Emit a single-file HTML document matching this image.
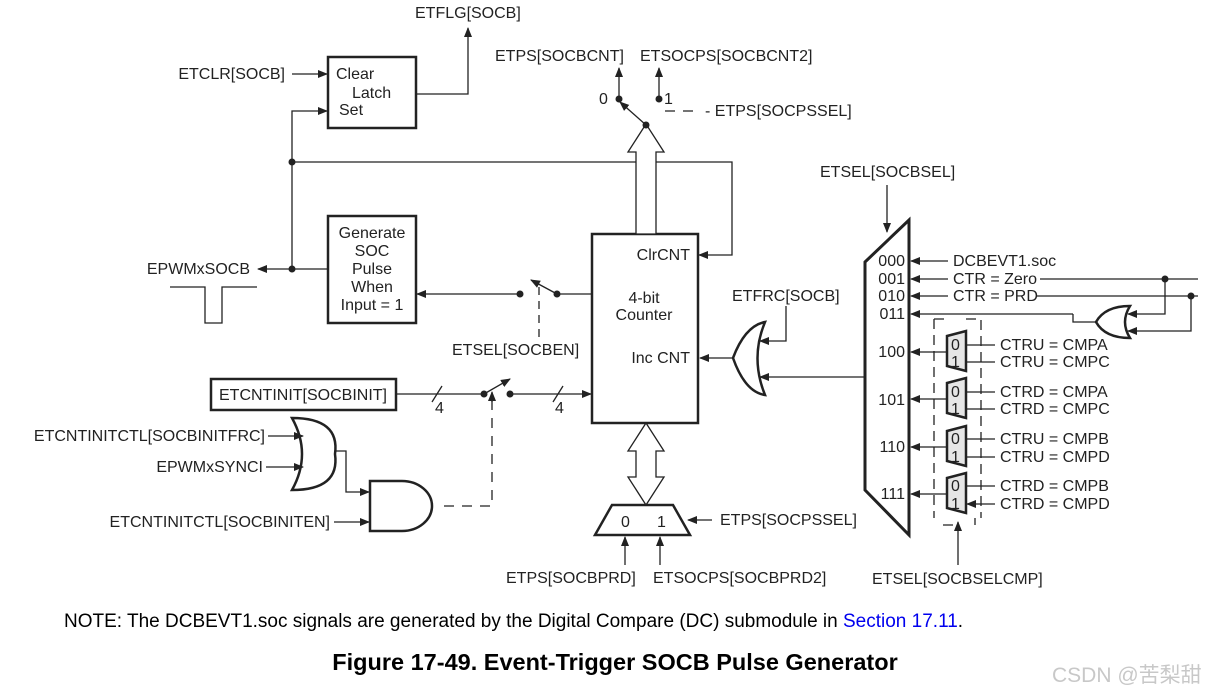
<!DOCTYPE html>
<html><head><meta charset="utf-8"><style>
body{margin:0;background:#fff;}
svg{display:block;font-family:"Liberation Sans",Arial,sans-serif;}
text{font-size:16px;fill:#222;}
</style></head><body>
<svg width="1215" height="693" viewBox="0 0 1215 693" xmlns="http://www.w3.org/2000/svg">
<defs>
<marker id="a" markerWidth="10" markerHeight="10" refX="9" refY="5" orient="auto" markerUnits="userSpaceOnUse"><path d="M0,1 L10,5 L0,9 Z" fill="#222"/></marker>
</defs>
<g stroke="#222" stroke-width="1.3" fill="none">
<rect x="328" y="57" width="88" height="71" stroke-width="2.5"/>
<path d="M416,94 H468 V28" marker-end="url(#a)"/>
<path d="M292,74 H327" marker-end="url(#a)"/>
<path d="M292,269 V111 H327" marker-end="url(#a)"/>
<path d="M292,162 H732 V255 H699" marker-end="url(#a)"/>
<rect x="328" y="216" width="88" height="107" stroke-width="2.5"/>
<path d="M327,269 H258" marker-end="url(#a)"/>
<path d="M170,287 H205 V323 H222 V287 H257"/>
<rect x="592" y="234" width="106" height="189" stroke-width="2.5"/>
<path d="M592,294 H557"/>
<path d="M557,294 L531,280" marker-end="url(#a)"/>
<path d="M520,294 H417" marker-end="url(#a)"/>
<path d="M539,287 V340" stroke-dasharray="8,6"/>
<path d="M636,234 V152 H628 L646,124 L664,152 H656 V234 Z" fill="#fff"/>
<path d="M646,125 L620,102" marker-end="url(#a)"/>
<path d="M619,99 V68" marker-end="url(#a)"/>
<path d="M659,99 V68" marker-end="url(#a)"/>
<path d="M665,111 H700" stroke-dasharray="10,8"/>
<rect x="211" y="379" width="185" height="31" stroke-width="2.5"/>
<path d="M396,394 H484"/>
<path d="M484,394 L510,379" marker-end="url(#a)"/>
<path d="M510,394 H591" marker-end="url(#a)"/>
<path d="M432,402 L442,386 M553,402 L563,386"/>
<path d="M444,506 H492 V396" stroke-dasharray="10,8"/>
<path d="M492,402 V392" marker-end="url(#a)"/>
<path d="M292,418 Q340,418 335,454 Q340,490 292,490 Q312,454 292,418 Z" stroke-width="2.5"/>
<path d="M268,436 H303" marker-end="url(#a)"/>
<path d="M266,467 H303" marker-end="url(#a)"/>
<path d="M336,451 H346 V492 H369" marker-end="url(#a)"/>
<path d="M370,481 H402 A30,25 0 0 1 402,531 H370 Z" stroke-width="2.5"/>
<path d="M334,522 H369" marker-end="url(#a)"/>
<path d="M646,423 L664,451 H656 V477 H664 L646,505 L628,477 H636 V451 H628 Z" fill="#fff"/>
<path d="M612,505 H673 L690,535 H595 Z" stroke-width="2.5"/>
<path d="M712,520 H688" marker-end="url(#a)"/>
<path d="M625,565 V537" marker-end="url(#a)"/>
<path d="M660,565 V537" marker-end="url(#a)"/>
<path d="M765,322 Q750,358 765,395 Q745,392 733,358 Q745,326 765,322 Z" stroke-width="2.5"/>
<path d="M786,306 V341 H760" marker-end="url(#a)"/>
<path d="M865,377 H760" marker-end="url(#a)"/>
<path d="M733,358 H700" marker-end="url(#a)"/>
<path d="M865,262 L909,220 V535 L865,490 Z" stroke-width="3"/>
<path d="M887,185 V232" marker-end="url(#a)"/>
<path d="M948,261 H911" marker-end="url(#a)"/>
<path d="M948,279 H911" marker-end="url(#a)"/>
<path d="M948,296 H911" marker-end="url(#a)"/>
<path d="M1040,279 H1198 M1037,296 H1198"/>
<path d="M1073,314 H911" marker-end="url(#a)"/>
<path d="M1073,314 V322 H1096"/>
<path d="M1130,306 Q1105,306 1096,322 Q1105,338 1130,338 Q1120,322 1130,306 Z" stroke-width="2.5"/>
<path d="M1165,279 V314 H1128" marker-end="url(#a)"/>
<path d="M1191,296 V331 H1128" marker-end="url(#a)"/>
<path d="M934,319 V518 M934,319 H948 M966,319 H981 V518 M943,525 H955 M975,518 V525" stroke-dasharray="10,6"/>
<path d="M958,565 V522" marker-end="url(#a)"/>
<g fill="#e6e6e6" stroke-width="2.5">
<path d="M947,336 L966,331 V371 L947,366 Z"/>
<path d="M947,383 L966,378 V418 L947,413 Z"/>
<path d="M947,431 L966,426 V466 L947,461 Z"/>
<path d="M947,478 L966,473 V513 L947,508 Z"/>
</g>
<path d="M947,352 H911" marker-end="url(#a)"/>
<path d="M947,399 H911" marker-end="url(#a)"/>
<path d="M947,447 H911" marker-end="url(#a)"/>
<path d="M947,494 H911" marker-end="url(#a)"/>
<path d="M995,345 H967 M995,362 H967 M995,392 H967 M995,409 H967 M995,439 H967 M995,457 H967 M995,486 H967 M995,504 H967" marker-end="url(#a)"/>
</g>
<g fill="#222">
<circle cx="292" cy="162" r="3.5"/><circle cx="292" cy="269" r="3.5"/>
<circle cx="557" cy="294" r="3.5"/><circle cx="520" cy="294" r="3.5"/>
<circle cx="646" cy="125" r="3.5"/><circle cx="619" cy="99" r="3.5"/><circle cx="659" cy="99" r="3.5"/>
<circle cx="484" cy="394" r="3.5"/><circle cx="510" cy="394" r="3.5"/>
<circle cx="1165" cy="279" r="3.5"/><circle cx="1191" cy="296" r="3.5"/>
</g>
<g>
<text x="415" y="18">ETFLG[SOCB]</text>
<text x="285" y="79" text-anchor="end">ETCLR[SOCB]</text>
<text x="336" y="79">Clear</text>
<text x="352" y="98">Latch</text>
<text x="339" y="115">Set</text>
<text x="495" y="61">ETPS[SOCBCNT]</text>
<text x="640" y="61">ETSOCPS[SOCBCNT2]</text>
<text x="599" y="104">0</text><text x="664" y="104">1</text>
<text x="705" y="116">- ETPS[SOCPSSEL]</text>
<text x="372" y="238" text-anchor="middle">Generate</text>
<text x="372" y="256" text-anchor="middle">SOC</text>
<text x="372" y="274" text-anchor="middle">Pulse</text>
<text x="372" y="292" text-anchor="middle">When</text>
<text x="372" y="310" text-anchor="middle">Input = 1</text>
<text x="250" y="274" text-anchor="end">EPWMxSOCB</text>
<text x="690" y="260" text-anchor="end">ClrCNT</text>
<text x="644" y="303" text-anchor="middle">4-bit</text>
<text x="644" y="320" text-anchor="middle">Counter</text>
<text x="690" y="363" text-anchor="end">Inc CNT</text>
<text x="452" y="355">ETSEL[SOCBEN]</text>
<text x="732" y="301">ETFRC[SOCB]</text>
<text x="820" y="177">ETSEL[SOCBSEL]</text>
<text x="303" y="400" text-anchor="middle">ETCNTINIT[SOCBINIT]</text>
<text x="435" y="413">4</text><text x="555" y="413">4</text>
<text x="265" y="441" text-anchor="end">ETCNTINITCTL[SOCBINITFRC]</text>
<text x="263" y="472" text-anchor="end">EPWMxSYNCI</text>
<text x="330" y="527" text-anchor="end">ETCNTINITCTL[SOCBINITEN]</text>
<text x="621" y="527">0</text><text x="657" y="527">1</text>
<text x="720" y="525">ETPS[SOCPSSEL]</text>
<text x="506" y="583">ETPS[SOCBPRD]</text>
<text x="653" y="583">ETSOCPS[SOCBPRD2]</text>
<text x="905" y="266" text-anchor="end">000</text><text x="905" y="284" text-anchor="end">001</text><text x="905" y="301" text-anchor="end">010</text><text x="905" y="319" text-anchor="end">011</text>
<text x="905" y="357" text-anchor="end">100</text><text x="905" y="405" text-anchor="end">101</text><text x="905" y="452" text-anchor="end">110</text><text x="905" y="499" text-anchor="end">111</text>
<text x="953" y="266">DCBEVT1.soc</text>
<text x="953" y="284">CTR = Zero</text>
<text x="953" y="301">CTR = PRD</text>
<text x="951" y="350" font-size="14">0</text><text x="951" y="367" font-size="14">1</text>
<text x="951" y="397" font-size="14">0</text><text x="951" y="414" font-size="14">1</text>
<text x="951" y="444" font-size="14">0</text><text x="951" y="462" font-size="14">1</text>
<text x="951" y="491" font-size="14">0</text><text x="951" y="509" font-size="14">1</text>
<text x="1000" y="350">CTRU = CMPA</text><text x="1000" y="367">CTRU = CMPC</text>
<text x="1000" y="397">CTRD = CMPA</text><text x="1000" y="414">CTRD = CMPC</text>
<text x="1000" y="444">CTRU = CMPB</text><text x="1000" y="462">CTRU = CMPD</text>
<text x="1000" y="491">CTRD = CMPB</text><text x="1000" y="509">CTRD = CMPD</text>
<text x="872" y="584">ETSEL[SOCBSELCMP]</text>
<text x="64" y="627" style="font-size:19px;fill:#000">NOTE: The DCBEVT1.soc signals are generated by the Digital Compare (DC) submodule in <tspan fill="#0000ee">Section 17.11</tspan>.</text>
<text x="615" y="670" text-anchor="middle" style="font-size:23.5px;font-weight:bold;fill:#000">Figure 17-49. Event-Trigger SOCB Pulse Generator</text>
<text x="1052" y="682" style="font-size:21px;fill:#c8c8c8;font-family:'Liberation Sans','Noto Sans CJK SC',sans-serif">CSDN @苦梨甜</text>
</g>
</svg>
</body></html>
